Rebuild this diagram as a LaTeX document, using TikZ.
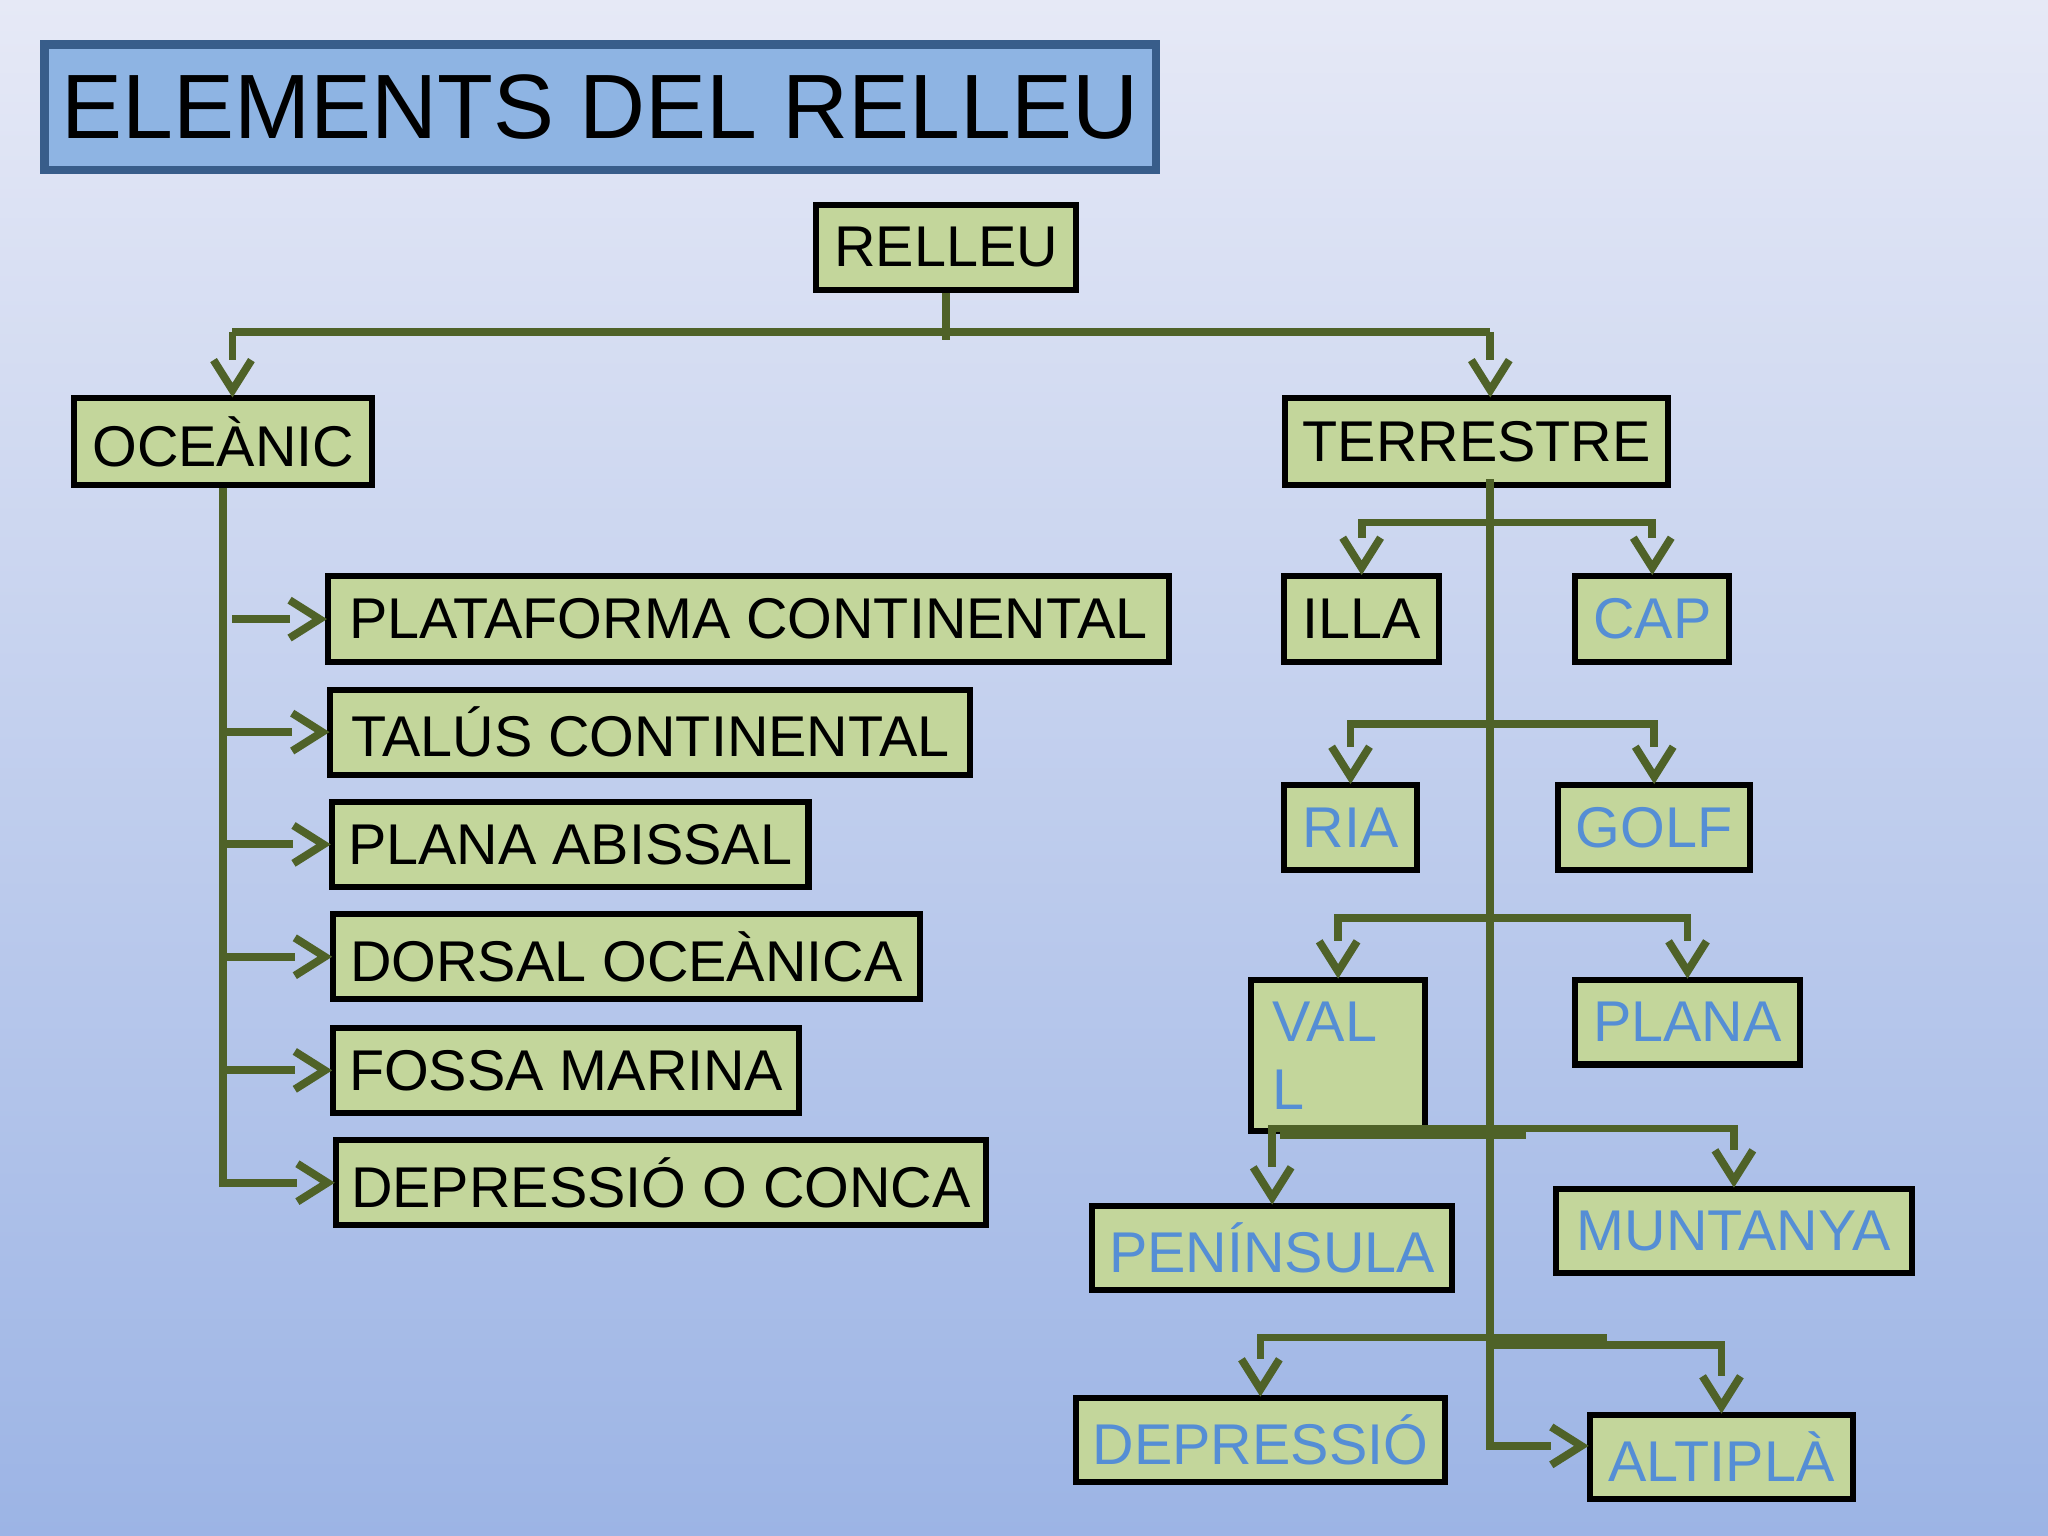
\documentclass[tikz,border=0pt]{standalone}
\usepackage{fontspec}
\setmainfont{Liberation Sans}
\usetikzlibrary{arrows.meta,calc}
\definecolor{bgtop}{HTML}{E6E9F6}
\definecolor{bgbot}{HTML}{9CB4E5}
\definecolor{boxfill}{HTML}{C3D69B}
\definecolor{conncol}{HTML}{4F6228}
\definecolor{bluetxt}{HTML}{558ED5}
\definecolor{titlefill}{HTML}{8EB4E3}
\definecolor{titledraw}{HTML}{385D8A}
\pgfdeclarearrow{
  name = OpenVee,
  parameters = {\the\pgfarrowlength,\the\pgfarrowwidth},
  setup code = {
    \pgfarrowssettipend{0pt}
    \pgfarrowssetbackend{-\pgfarrowlength}
    \pgfarrowssetlineend{-\pgfarrowlength}
    \pgfarrowssavethe\pgfarrowlength
    \pgfarrowssavethe\pgfarrowwidth
  },
  drawing code = {
    \pgfsetdash{}{0pt}
    \pgfsetmiterjoin
    \pgfpathmoveto{\pgfqpoint{-\pgfarrowlength}{0.5\pgfarrowwidth}}
    \pgfpathlineto{\pgfqpoint{-2pt}{0pt}}
    \pgfpathlineto{\pgfqpoint{-\pgfarrowlength}{-0.5\pgfarrowwidth}}
    \pgfusepathqstroke
  },
  defaults = {length=13pt, width=14pt}
}
\begin{document}
\begin{tikzpicture}[x=0.5pt,y=-0.5pt,
  box/.style={draw=black, fill=boxfill, line width=2.3pt, inner sep=0pt, font=\fontsize{22}{26}\selectfont, text=black},
  bluebox/.style={box, text=bluetxt},
  sz/.style 2 args={minimum width={#1*0.5pt}, minimum height={#2*0.5pt}},
  conn/.style={draw=conncol, line width=3pt},
  arr/.style={conn, -{OpenVee[length=13.5pt,width=14.5pt]}},
  thickbar/.style={draw=conncol, line width=#1},
  thickbar/.default=5.5pt]
\useasboundingbox (0,0) rectangle (1568,1176);
\shade[top color=bgtop, bottom color=bgbot] (0,0) rectangle (1568,1176);

% title
\node[draw=titledraw, fill=titlefill, line width=3.2pt, sz={851}{96}, inner sep=0pt,
      font=\fontsize{35}{40}\selectfont] (title) at (459.5,82) {ELEMENTS DEL RELLEU};

% nodes
\node[box, sz={199}{65}] (relleu) at (724.5,189.5) {RELLEU};
\node[box, sz={228}{66}] (oce) at (171,338) {OCEÀNIC};
\node[box, sz={293}{66}] (ter) at (1130.5,338) {TERRESTRE};

\node[box, sz={644}{66}] (plat) at (573,474) {PLATAFORMA CONTINENTAL};
\node[box, sz={490}{65}] (talus) at (498,560.5) {TALÚS CONTINENTAL};
\node[box, sz={365}{65}] (abis) at (436.5,646.5) {PLANA ABISSAL};
\node[box, sz={449}{65}] (dors) at (479.5,732.5) {DORSAL OCEÀNICA};
\node[box, sz={357}{65}] (fossa) at (433.5,819.5) {FOSSA MARINA};
\node[box, sz={498}{65}] (conca) at (506,905.5) {DEPRESSIÓ O CONCA};

\node[box, sz={119}{66}] (illa) at (1042.5,474) {ILLA};
\node[bluebox, sz={118}{66}] (cap) at (1265,474) {CAP};
\node[bluebox, sz={102}{65}] (ria) at (1034,633.5) {RIA};
\node[bluebox, sz={147}{65}] (golf) at (1266.5,633.5) {GOLF};
\node[bluebox, sz={133}{116}, align=left, text width=50pt] (vall) at (1024.5,808) {VAL\\L};
\node[bluebox, sz={172}{65}] (plana) at (1292,782.5) {PLANA};
\node[bluebox, sz={276}{65}] (penin) at (974,955.5) {PENÍNSULA};
\node[bluebox, sz={273}{65}] (munt) at (1327.5,942.5) {MUNTANYA};
\node[bluebox, sz={282}{65}] (depr) at (965,1102.5) {DEPRESSIÓ};
\node[bluebox, sz={202}{65}] (alti) at (1318,1115.5) {ALTIPLÀ};

% RELLEU connectors
\coordinate (rj) at (724.5,260);
\coordinate (hL) at (178,254);
\coordinate (hR) at (1141,254);
\draw[conn] (relleu.south) -- (rj);
\draw[conn] (hL) -- (hR);
\draw[arr] (hL) -- (hL |- oce.north);
\draw[arr] (hR) -- (hR |- ter.north);

% OCEANIC connectors
\draw[arr] (oce.south) |- (conca.west);
\draw[arr] ($(plat.west -| oce.south)+(7,0)$) -- (plat.west);
\draw[arr] (talus.west -| oce.south) -- (talus.west);
\draw[arr] (abis.west -| oce.south) -- (abis.west);
\draw[arr] (dors.west -| oce.south) -- (dors.west);
\draw[arr] (fossa.west -| oce.south) -- (fossa.west);

% TERRESTRE connectors
\coordinate (tTop) at (1141,367);
\coordinate (tBot) at (1141,1107);
\draw[arr] (tTop) -- (tBot) -- (tBot -| alti.west);
\coordinate (b1) at (1141,400);
\coordinate (b2) at (1141,554);
\coordinate (b3) at (1141,703);
\coordinate (b4) at (1141,864);
\coordinate (b5l) at (1141,1024);
\coordinate (b5r) at (1141,1030);
\draw[arr] (b1) -| (illa.north);
\draw[arr] (b1) -| (cap.north);
\draw[arr] (b2) -| (ria.north);
\draw[arr] (b2) -| (golf.north);
\draw[arr] (b3) -| (vall.north);
\draw[arr] (b3) -| (plana.north);
\draw[arr] (b4) -| (penin.north);
\draw[arr] (b4) -| (munt.north);
\draw[arr] (b5l) -| (depr.north);
\draw[arr] (b5r) -| (alti.north);
\coordinate (k1a) at (980,866.5);
\coordinate (k1b) at (1168,866.5);
\coordinate (k2a) at (1141,1027);
\coordinate (k2b) at (1230,1027);
\draw[thickbar] (k1a) -- (k1b);
\draw[thickbar=6pt] (k2a) -- (k2b);
\end{tikzpicture}
\end{document}
